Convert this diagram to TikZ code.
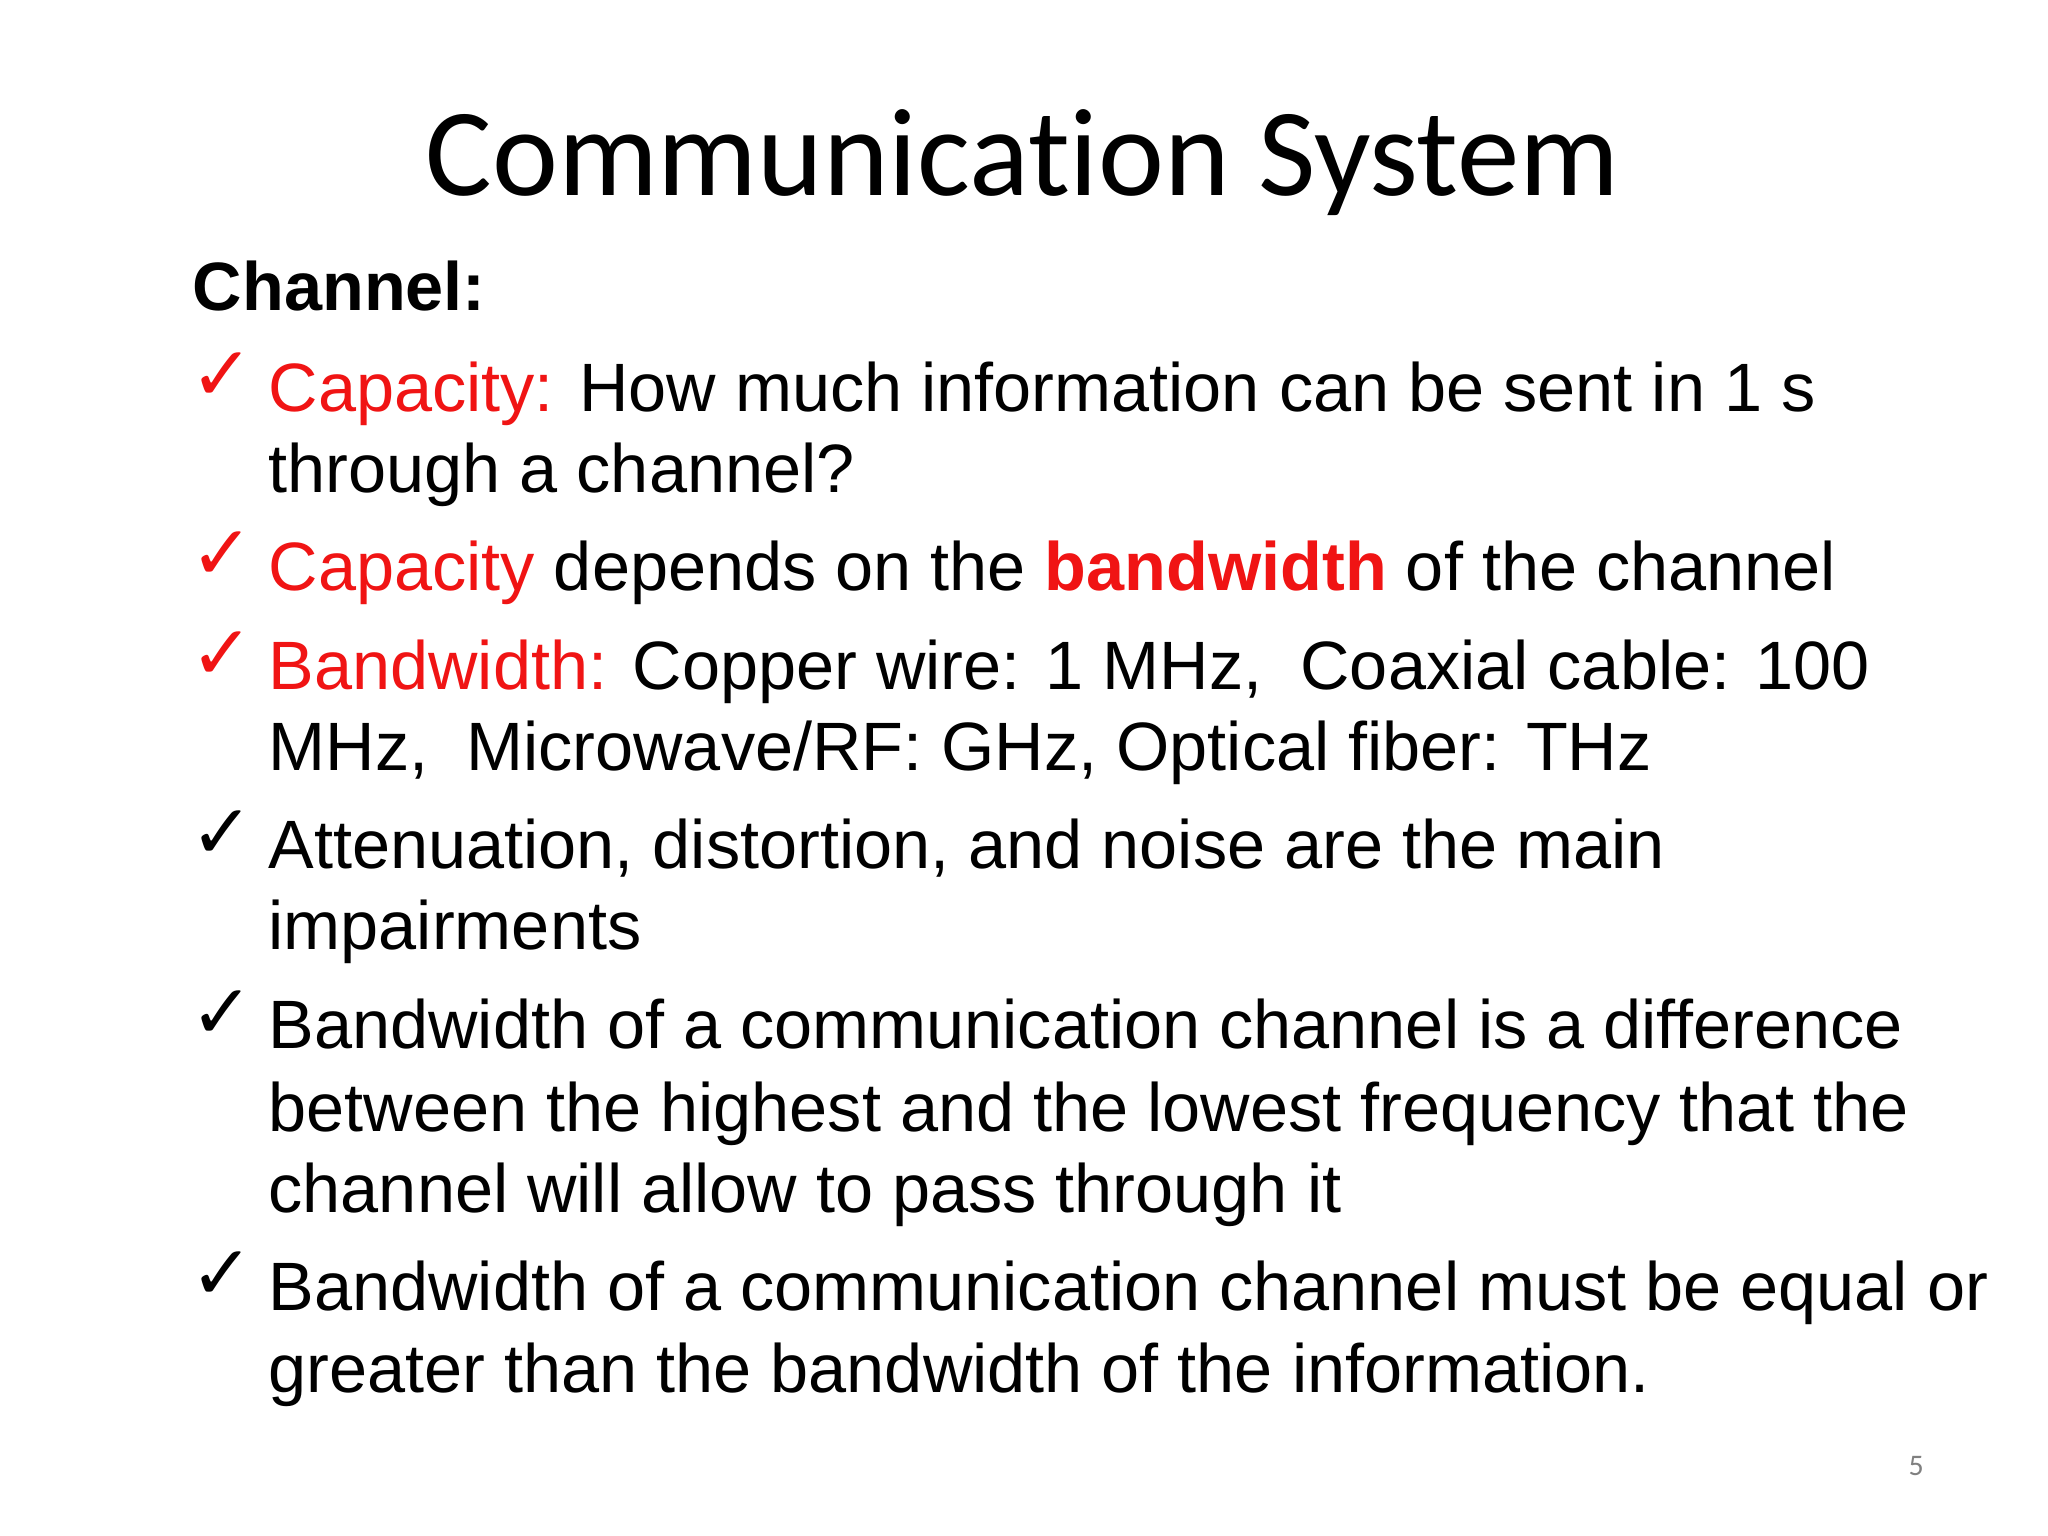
\documentclass[tikz,border=0pt]{standalone}
\usepackage{fontspec}
\setmainfont{Liberation Sans}
\newfontfamily\titlefont[Ligatures={NoCommon,NoRare}]{Carlito}
\newfontfamily\symfont{DejaVu Sans}
\definecolor{myred}{RGB}{240,20,20}
\begin{document}
\begin{tikzpicture}[x=0.01cm,y=-0.01cm,
  txt/.style={anchor=base west,inner sep=0pt,font=\fontsize{14.9}{17}\selectfont},
  chk/.style={anchor=base west,inner sep=0pt,font=\symfont\fontsize{16.5}{18}\selectfont}]
\useasboundingbox (0,0) rectangle (1568,1176);
\fill[white] (0,0) rectangle (1568,1176);
\node[anchor=base,inner sep=0pt,font=\titlefont\fontsize{27.2}{32}\selectfont] (title) at (783,150) {Communication System};
\node[txt,font=\bfseries\fontsize{14.9}{17}\selectfont] (ch) at (147,238) {Channel:};
\node[chk,text=myred] (c1) at (145,307) {✓};
\node[txt] (l1a) at (205,315) {\textcolor{myred}{Capacity:} How much information can be sent in 1 s};
\node[txt] (l1b) at (205,377) {through a channel?};
\node[chk,text=myred] (c2) at (145,444) {✓};
\node[txt] (l2) at (205,452) {\textcolor{myred}{Capacity} depends on the \textcolor{myred}{\bfseries bandwidth} of the channel};
\node[chk,text=myred] (c3) at (145,520) {✓};
\node[txt] (l3a) at (205,528) {\textcolor{myred}{Bandwidth:} Copper wire: 1 MHz,\ \ Coaxial cable: 100};
\node[txt] (l3b) at (205,590) {MHz,\ \ Microwave/RF: GHz, Optical fiber: THz};
\node[chk] (c4) at (145,657) {✓};
\node[txt] (l4a) at (205,665) {Attenuation, distortion, and noise are the main};
\node[txt] (l4b) at (205,727) {impairments};
\node[chk] (c5) at (145,795) {✓};
\node[txt] (l5a) at (205,803) {Bandwidth of a communication channel is a difference};
\node[txt] (l5b) at (205,866) {between the highest and the lowest frequency that the};
\node[txt] (l5c) at (205,928) {channel will allow to pass through it};
\node[chk] (c6) at (145,995) {✓};
\node[txt] (l6a) at (205,1003) {Bandwidth of a communication channel must be equal or};
\node[txt] (l6b) at (205,1066) {greater than the bandwidth of the information.};
\node[anchor=base,inner sep=0pt,text=gray,font=\titlefont\fontsize{6.5}{8}\selectfont] (pg) at (1467,1130) {5};
\end{tikzpicture}
\end{document}
